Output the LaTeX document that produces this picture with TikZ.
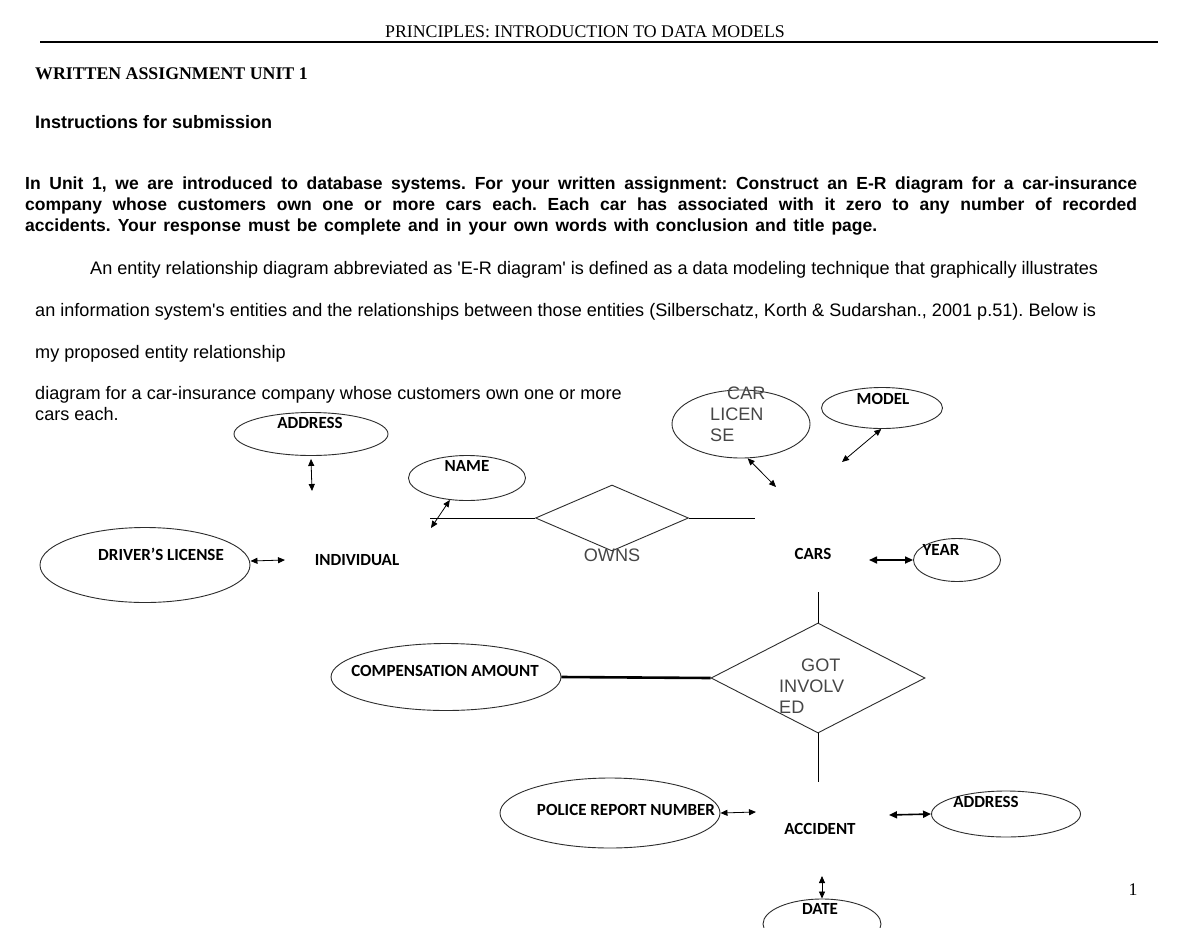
\documentclass[tikz,border=0pt]{standalone}
\usepackage{fontspec}
\setmainfont{Liberation Serif}
\setsansfont{Liberation Sans}
\newfontfamily\calibri{Carlito}
\usetikzlibrary{shapes.geometric, arrows.meta, positioning, calc}
\frenchspacing

\begin{document}
\begin{tikzpicture}[x=1pt, y=-1pt, >={Triangle[length=7pt, width=6pt]}, font=\sffamily\fontsize{18.1}{21}\selectfont]
    % Define local colors
    \definecolor{rim}{RGB}{45, 45, 45} \definecolor{grey}{RGB}{70, 70, 70}
    \tikzset{
        attr/.style={draw=rim, line width=0.9pt, ellipse, inner sep=0pt},
        rel/.style={draw=rim, line width=0.9pt, diamond, inner sep=0pt},
        lbl/.style={font=\calibri\bfseries\fontsize{17}{20}\selectfont, inner sep=0pt},
        reltext/.style={font=\sffamily\fontsize{18.1}{21}\selectfont, text=grey, inner sep=0pt, align=left},
        line/.style={anchor=base west, inner sep=0pt},
        link/.style={<->, line width=0.8pt},
        boldlink/.style={<->, line width=1.6pt, >={Triangle[length=8pt, width=7pt]}},
    }
    \fill[white] (0,0) rectangle (1200,927);
    \useasboundingbox (0,0) rectangle (1200,927);

    % PAGE HEAD
    \node[anchor=base, inner sep=0pt, font=\rmfamily\fontsize{17.8}{20}\selectfont] (head) at (585, 37) {PRINCIPLES: INTRODUCTION TO DATA MODELS};
    \draw[line width=1.8pt] (40, 42) -- (1158, 42);
    \node[line, font=\rmfamily\bfseries\fontsize{17.8}{20}\selectfont] (unit) at (35, 79) {WRITTEN ASSIGNMENT UNIT 1};
    \node[line, font=\sffamily\bfseries\fontsize{18}{21}\selectfont] (instr) at (35, 128) {Instructions for submission};

    % TASK TEXT (bold, justified)
    \begin{scope}[every node/.append style={font=\sffamily\bfseries\fontsize{17.5}{21}\selectfont}]
        \node[line] (task1) at (25, 189) {\makebox[1112pt][s]{In Unit 1, we are introduced to database systems. For your written assignment: Construct an E-R diagram for a car-insurance}};
        \node[line] (task2) at (25, 210) {\makebox[1112pt][s]{company whose customers own one or more cars each. Each car has associated with it zero to any number of recorded}};
        \node[line] (task3) at (25, 231) {\makebox[852pt][s]{accidents. Your response must be complete and in your own words with conclusion and title page.}};
    \end{scope}

    % ANSWER TEXT
    \node[line] (ans1) at (90, 274) {An entity relationship diagram abbreviated as \textquotesingle E-R diagram\textquotesingle\ is defined as a data modeling technique that graphically illustrates};
    \node[line] (ans2) at (35, 316) {an information system\textquotesingle s entities and the relationships between those entities (Silberschatz, Korth \& Sudarshan., 2001 p.51). Below is};
    \node[line] (ans3) at (35, 358) {my proposed entity relationship};
    \node[line] (ans4) at (35, 399) {diagram for a car-insurance company whose customers own one or more};
    \node[line] (ans5) at (35, 420) {cars each.};

    % ATTRIBUTE ELLIPSES
    \foreach \n/\x/\y/\w/\h in {addrI/311/434/154/43, name/467/478/117/45, drv/145/565/210/75,
                                carlic/741/424/138/68, model/882/408/121/41, year/957/560/87/43,
                                comp/446/677/230/67, police/610/813/220/70, addrA/1006/814/149/46, date/822/924/118/50} {
        \node[attr, minimum width=\w pt, minimum height=\h pt] (\n) at (\x, \y) {};
    }

    % LABELS
    \foreach \n/\x/\y/\t in {addrIt/310/423/ADDRESS, namet/467/466/NAME, drvt/161/554/DRIVER’S LICENSE,
                             indiv/357/560/INDIVIDUAL, modelt/883/399/MODEL, cars/813/554/CARS, yeart/941/550/YEAR,
                             compt/445/671/COMPENSATION AMOUNT, policet/626/810/POLICE REPORT NUMBER,
                             accid/820/829/ACCIDENT, addrAt/986/802/ADDRESS, datet/820/909/DATE} {
        \node[lbl] (\n) at (\x, \y) {\t};
    }
    \node[reltext, anchor=north west] (carlict) at (710, 387) {\hspace*{17pt}CAR\\LICEN\\SE};

    % RELATIONSHIPS
    \node[rel, minimum width=153pt, minimum height=66pt] (owns) at (612, 518) {};
    \node[reltext] (ownst) at (612, 555) {OWNS};
    \node[rel, minimum width=214pt, minimum height=110pt] (got) at (818, 678) {};
    \node[reltext, anchor=north west] (gott) at (779, 659) {\hspace*{22pt}GOT\\INVOLV\\ED};

    % Free ends
    \coordinate (ownsL) at (430, 518); \coordinate (ownsR) at (755, 518);
    \coordinate (gotT) at (818, 592);  \coordinate (gotB) at (818, 782);
    \coordinate (addrIe) at (312, 491); \coordinate (namee) at (431, 528);
    \coordinate (drve) at (285, 560);  \coordinate (carlice) at (776, 487);
    \coordinate (modele) at (842, 462); \coordinate (carse) at (869, 560);
    \coordinate (policee) at (756, 812); \coordinate (accide) at (889, 815);
    \coordinate (datee) at (822, 876);

    % Connectors
    \draw[line width=0.9pt] (ownsL) -- (owns.west);
    \draw[line width=0.9pt] (owns.east) -- (ownsR);
    \draw[line width=0.9pt] (gotT) -- (got.north);
    \draw[line width=0.9pt] (got.south) -- (gotB);
    \draw[line width=2.6pt] (comp.east) -- (got.west);

    \draw[link] ([yshift=-3pt]addrI.south) -- (addrIe);
    \draw[link] (name.232) -- (namee);
    \draw[link] ([yshift=4pt]drv.east) -- (drve);
    \draw[link] (carlic.281) -- (carlice);
    \draw[link] (model.268) -- (modele);
    \draw[boldlink] (carse) -- (year.west);
    \draw[link] (police.east) -- (policee);
    \draw[boldlink] (accide) -- (addrA.west);
    \draw[link] (datee) -- (date.north);

    % Page number
    \node[inner sep=0pt, font=\rmfamily\fontsize{17.8}{20}\selectfont] (pageno) at (1133, 890) {1};
\end{tikzpicture}
\end{document}
